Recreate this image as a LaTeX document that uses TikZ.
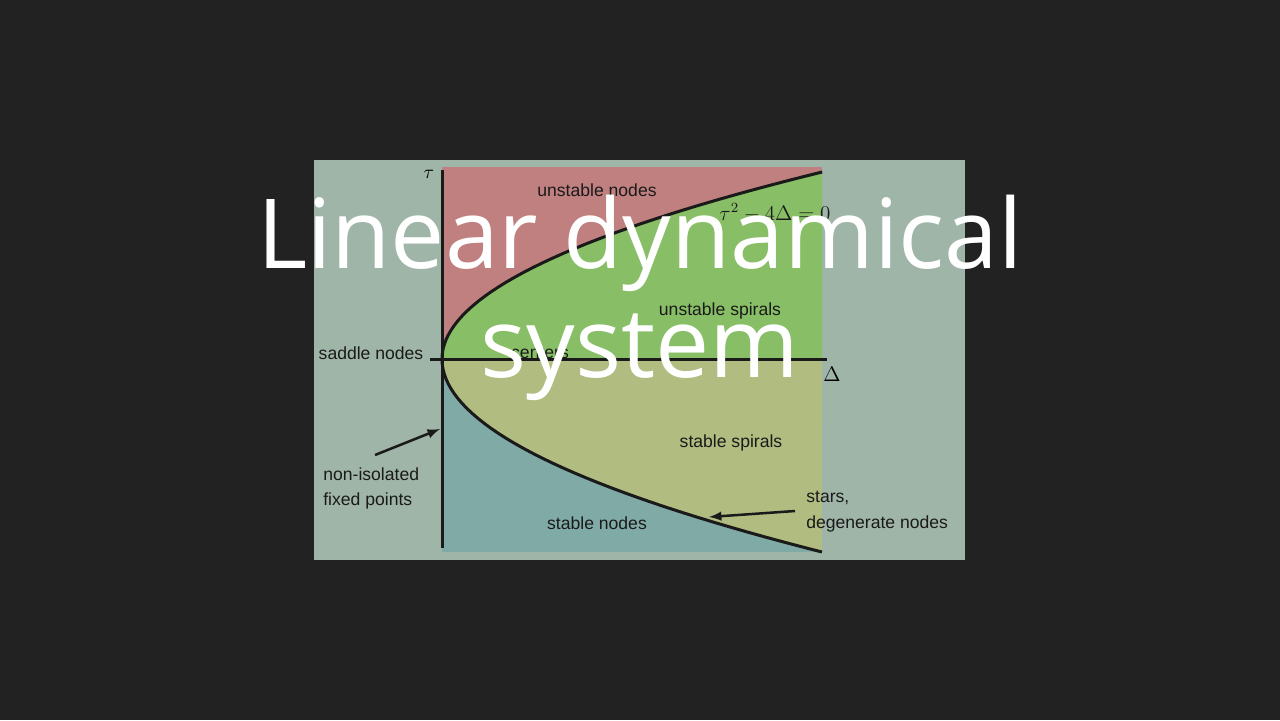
\documentclass[tikz,border=0pt]{standalone}
\usepackage{fontspec}
\setmainfont{Liberation Sans}
\newfontfamily\titlefont{Open Sans}
\usetikzlibrary{positioning}
\definecolor{bgdark}{HTML}{222222}
\definecolor{panel}{HTML}{9FB5A8}
\definecolor{unstnode}{HTML}{C08080}
\definecolor{unstspiral}{HTML}{88BF66}
\definecolor{stspiral}{HTML}{B0BC80}
\definecolor{stnode}{HTML}{80AAA6}
\definecolor{ink}{HTML}{1A1A1A}

\tikzset{
	main/.style={ink, line width=0.6mm},
	lab/.style={ink, font=\fontsize{10}{11.5}\selectfont, inner sep=0pt},
	arrow/.style={-latex, line width=0.5mm, ink}
}

\begin{document}
\begin{tikzpicture}[x=0.02cm, y=-0.02cm]
%% background
\fill[bgdark] (0,0) rectangle (1280,720);
\fill[panel] (314,160) rectangle (965,560);

% regions
\fill[unstnode] (442,167) rectangle (822,359);
\fill[stnode] (442,359) rectangle (822,552);
\fill[unstspiral] plot[domain=-187:0, samples=40] ({442+(0.10426*\x)*(0.10426*\x)}, {359+\x}) -- (822,359) -- (822,172) -- cycle;
\fill[stspiral] plot[domain=0:193, samples=40] ({442+(0.101*\x)*(0.101*\x)}, {359+\x}) -- (822,359) -- cycle;

% axes and curve
\draw[main] (442,170) -- (442,548);
\draw[main] (430,359) -- (827,359);
\draw[main] plot[domain=-187:0, samples=40] ({442+(0.10426*\x)*(0.10426*\x)}, {359+\x});
\draw[main] plot[domain=0:193, samples=40] ({442+(0.101*\x)*(0.101*\x)}, {359+\x});

\node (tau) at (429,174) {\fontsize{11}{12}\selectfont$\tau$};
\node (delta) at (832,374) {\fontsize{13}{14}\selectfont$\Delta$};
\node (curve) at (775,213) {\fontsize{12}{13}\selectfont\color{ink}$\tau^2-4\Delta=0$};

\node[lab] (unodes) at (597,190) {unstable nodes};
\node[lab] (uspirals) at (720,311) {unstable spirals};
\node[lab] (saddle) at (371,353) {saddle nodes};
\node[lab] (centers) at (540,353) {centers};
\node[lab] (sspirals) at (731,443) {stable spirals};
\node[lab] (snodes) at (597,523) {stable nodes};
\node[lab, align=left, anchor=north west] (nonisol) at (323,467) {non-isolated\\[3pt]fixed points};
\node[lab, align=left, anchor=north west] (stars) at (806,491) {stars,\\[3pt]degenerate nodes};

\coordinate (nonisolTip) at (440,429);
\coordinate (nonisolTail) at (375,455);
\coordinate (starsTip) at (709,517);
\coordinate (starsTail) at (795,511);
\draw[arrow] (nonisolTail) -- (nonisolTip);
\draw[arrow] (starsTail) -- (starsTip);

% title
\node[white, font=\titlefont\fontsize{55}{62}\selectfont, align=center] (title) at (640,298) {Linear dynamical\\system};
\end{tikzpicture}
\end{document}
